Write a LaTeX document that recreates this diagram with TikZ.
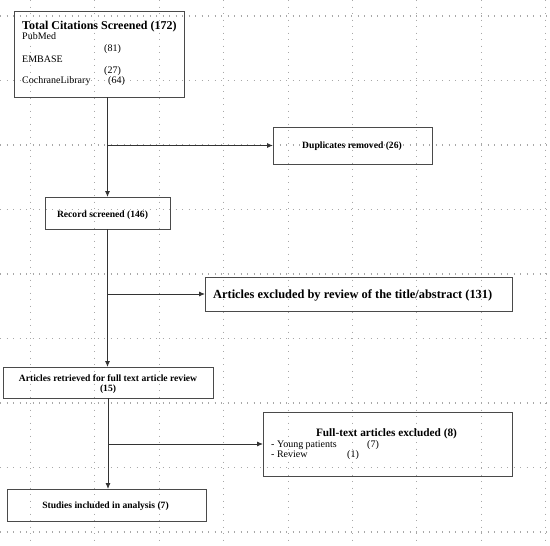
\documentclass[tikz,border=0pt]{standalone}
\usepackage{fontspec}
\setmainfont{Liberation Serif}
\usetikzlibrary{arrows.meta}
\definecolor{gridc}{HTML}{A8A8A8}
\definecolor{boxc}{HTML}{4A4A4A}
\definecolor{linec}{HTML}{333333}
\tikzset{
  gridline/.style={gridc, line width=1.1pt, dash pattern=on 1.1pt off 5.4pt},
  box/.style={draw=boxc, line width=1pt, inner sep=0pt, outer sep=0pt},
  arr/.style={draw=linec, line width=0.9pt, -{Latex[length=6pt,width=5pt]}},
  big/.style={inner sep=0pt, font=\fontsize{12}{13}\selectfont\bfseries},
  smallb/.style={inner sep=0pt, font=\fontsize{9.6}{11}\selectfont\bfseries},
  small/.style={inner sep=0pt, font=\fontsize{10}{11}\selectfont},
}
\begin{document}
\begin{tikzpicture}[x=1pt,y=-1pt]
\useasboundingbox (0,0) rectangle (550,546);
% grid
\foreach \k in {0,...,8} {
  \draw[gridline] (0,16+64.5*\k) -- (550,16+64.5*\k);
  \draw[gridline] (30.5+64.4*\k,0) -- (30.5+64.4*\k,546);
}
% boxes
\node[box, minimum width=170pt, minimum height=86pt] (b1) at (99,54) {};
\node[box, minimum width=159pt, minimum height=37pt] (b2) at (352.5,145.5) {};
\node[box, minimum width=125pt, minimum height=32pt] (b3) at (107.5,213) {};
\node[box, minimum width=307pt, minimum height=34pt] (b4) at (358.5,294) {};
\node[box, minimum width=210pt, minimum height=31pt] (b5) at (108,382.5) {};
\node[box, minimum width=249pt, minimum height=64pt] (b6) at (387.5,444) {};
\node[box, minimum width=199pt, minimum height=32pt] (b7) at (106.5,505) {};
% texts
\node[big, anchor=base west] (t1) at (22,29.5) {Total Citations Screened (172)};
\node[small, anchor=base west] (t1a) at (22,39) {PubMed};
\node[small, anchor=base west] (t1b) at (104,52) {(81)};
\node[small, anchor=base west] (t1c) at (22,62) {EMBASE};
\node[small, anchor=base west] (t1d) at (104,73) {(27)};
\node[small, anchor=base west] (t1e) at (22,83) {CochraneLibrary};
\node[small, anchor=base west] (t1f) at (108,83) {(64)};
\node[smallb, anchor=base] (t2) at (352,148) {Duplicates removed (26)};
\node[smallb, anchor=base] (t3) at (102.5,217) {Record screened (146)};
\node[big, font=\fontsize{12.4}{14}\selectfont\bfseries, anchor=base west] (t4) at (213,298) {Articles excluded by review of the title/abstract (131)};
\node[smallb, anchor=base] (t5) at (108,381) {Articles retrieved for full text article review};
\node[smallb, anchor=base] (t5b) at (108,391) {(15)};
\node[big, font=\fontsize{11.3}{13}\selectfont\bfseries, anchor=base] (t6) at (386.5,436) {Full-text articles excluded (8)};
\node[small, anchor=base west] (t6a) at (271,447) {- Young patients};
\node[small, anchor=base west] (t6b) at (367,447) {(7)};
\node[small, anchor=base west] (t6c) at (271,457) {- Review};
\node[small, anchor=base west] (t6d) at (347,457) {(1)};
\node[smallb, anchor=base] (t7) at (105.5,508) {Studies included in analysis (7)};
% connectors
\draw[arr] (b3.north |- b1.south) -- (b3.north);
\draw[arr] (b3.north |- b2.west) -- (b2.west);
\draw[arr] (b3.south) -- (b3.south |- b5.north);
\draw[arr] (b3.south |- b4.west) -- (b4.west);
\draw[arr] (b5.south) -- (b5.south |- b7.north);
\draw[arr] (b5.south |- b6.west) -- (b6.west);
\end{tikzpicture}
\end{document}
